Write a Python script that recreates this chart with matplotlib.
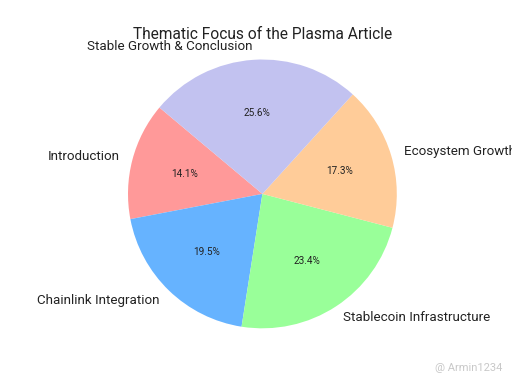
import matplotlib
matplotlib.use('Agg')
import matplotlib.pyplot as plt

plt.rcParams['font.family'] = ['Roboto', 'DejaVu Sans']

# sections of the article, counter-clockwise from the start angle
sections = ['Introduction', 'Chainlink Integration', 'Stablecoin Infrastructure',
            'Ecosystem Growth', 'Stable Growth & Conclusion']
shares = [14.1, 19.5, 23.4, 17.3, 25.6]
colors = ['#ff9999', '#66b3ff', '#99ff99', '#ffcc99', '#c2c2f0']

fig = plt.figure(figsize=(6.4, 4.8), dpi=80)
ax = fig.add_subplot(111)
wedges, texts, autotexts = ax.pie(shares, labels=sections, colors=colors,
                                  autopct='%1.1f%%', startangle=140,
                                  textprops={'fontsize': 12, 'color': '#222222'})
for t in autotexts:
    t.set_fontsize(9)
ax.set_xlim(-1.1, 1.1)
ax.set_ylim(-1.1, 1.1)
ax.set_title('Thematic Focus of the Plasma Article', fontsize=14, color='#222222')

# watermark seen in the corner of the source image
fig.text(0.982, 0.033, '@ Armin1234', color='#c8c8c8', fontsize=10, ha='right')

plt.savefig('out.png')
